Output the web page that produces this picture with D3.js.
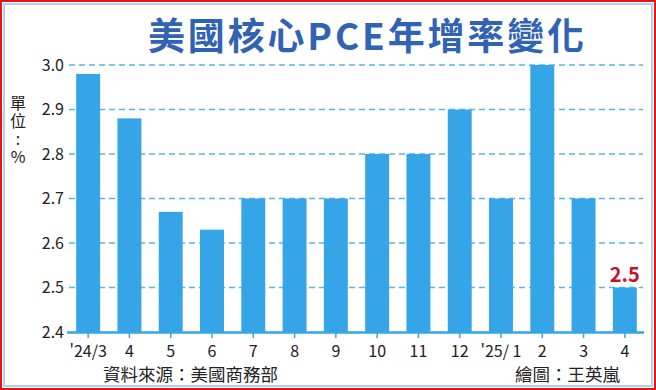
<!DOCTYPE html>
<html lang="zh-Hant">
<head>
  <meta charset="utf-8" />
  <title>美國核心PCE年增率變化</title>
  <script src="https://d3js.org/d3.v7.min.js"></script>
  <style>
    html, body { margin: 0; padding: 0; background: #fff; }
    svg { display: block; }
    text { font-family: "Noto Sans CJK TC", "Noto Sans", sans-serif; }
  </style>
</head>
<body>
  <svg id="chart" width="656" height="390"></svg>
  <script>
    // data
    const months = ["'24/3", "4", "5", "6", "7", "8", "9", "10", "11", "12", "'25/ 1", "2", "3", "4"];
    const values = [2.98, 2.88, 2.67, 2.63, 2.7, 2.7, 2.7, 2.8, 2.8, 2.9, 2.7, 3.0, 2.7, 2.5];
    const yTicks = [2.4, 2.5, 2.6, 2.7, 2.8, 2.9, 3.0];

    const W = 656, H = 390;
    const BAR = "#36a5e8";
    const svg = d3.select("#chart");

    // frame: red outside, light blue inside
    svg.append("rect").attr("x", 1).attr("y", 1).attr("width", W - 2).attr("height", H - 2)
      .attr("fill", "none").attr("stroke", "#f01010").attr("stroke-width", 2);
    svg.append("rect").attr("x", 4).attr("y", 4).attr("width", W - 8).attr("height", H - 8)
      .attr("fill", "none").attr("stroke", "#a9d4f5").attr("stroke-width", 2);

    const x = d3.scaleBand().domain(d3.range(months.length)).range([67.5, 645.5]).paddingInner(0.42).paddingOuter(0.21);
    const y = d3.scaleLinear().domain([2.4, 3.0]).range([332, 65]);
    const cx = i => x(i) + x.bandwidth() / 2;

    // dashed grid
    svg.append("g").selectAll("line")
      .data(yTicks.slice(1))
      .join("line")
      .attr("x1", 69).attr("x2", 643)
      .attr("y1", d => y(d)).attr("y2", d => y(d))
      .attr("stroke", "#5ab4ec").attr("stroke-width", 1.3)
      .attr("stroke-dasharray", "6,4");

    // bars
    svg.append("g").selectAll("rect")
      .data(values)
      .join("rect")
      .attr("x", (d, i) => x(i))
      .attr("y", d => y(d))
      .attr("width", x.bandwidth())
      .attr("height", d => y(2.4) - y(d))
      .attr("fill", BAR);

    // x axis line and ticks
    svg.append("line").attr("x1", 67).attr("x2", 644).attr("y1", 332.5).attr("y2", 332.5)
      .attr("stroke", BAR).attr("stroke-width", 2.5);
    svg.append("g").selectAll("line")
      .data(months)
      .join("line")
      .attr("x1", (d, i) => cx(i)).attr("x2", (d, i) => cx(i))
      .attr("y1", 333).attr("y2", 338)
      .attr("stroke", BAR).attr("stroke-width", 1.5);

    svg.append("g").selectAll("text")
      .data(months)
      .join("text")
      .attr("x", (d, i) => cx(i))
      .attr("y", 357)
      .attr("text-anchor", "middle")
      .attr("fill", "#222")
      .style("font-size", "16px")
      .text(d => d);

    // y labels
    svg.append("g").selectAll("text")
      .data(yTicks)
      .join("text")
      .attr("x", 64)
      .attr("y", d => y(d))
      .attr("dy", "0.35em")
      .attr("text-anchor", "end")
      .attr("fill", "#222")
      .style("font-size", "16px")
      .text(d => d.toFixed(1));

    // unit label, written vertically in one text
    svg.append("text")
      .attr("x", 18)
      .attr("y", 95)
      .attr("fill", "#222")
      .style("font-size", "16px")
      .style("writing-mode", "vertical-rl")
      .style("text-orientation", "upright")
      .style("letter-spacing", "2px")
      .text("單位:%");

    // title
    svg.append("text")
      .attr("x", 366).attr("y", 50)
      .attr("text-anchor", "middle")
      .attr("fill", "#3063b3")
      .style("font-size", "37px")
      .style("font-weight", "bold")
      .attr("textLength", 436)
      .text("美國核心PCE年增率變化");

    // last value label
    const last = values.length - 1;
    svg.append("text")
      .attr("x", cx(last))
      .attr("y", y(values[last]) - 6)
      .attr("text-anchor", "middle")
      .attr("fill", "#c8102e")
      .style("font-size", "20px")
      .style("font-weight", "bold")
      .text(values[last].toFixed(1));

    // footer
    svg.append("text").attr("x", 103).attr("y", 381)
      .attr("fill", "#222").style("font-size", "17.5px")
      .text("資料來源：美國商務部");
    svg.append("text").attr("x", 620).attr("y", 381)
      .attr("text-anchor", "end")
      .attr("fill", "#222").style("font-size", "17.5px")
      .text("繪圖：王英嵐");
  </script>
</body>
</html>
